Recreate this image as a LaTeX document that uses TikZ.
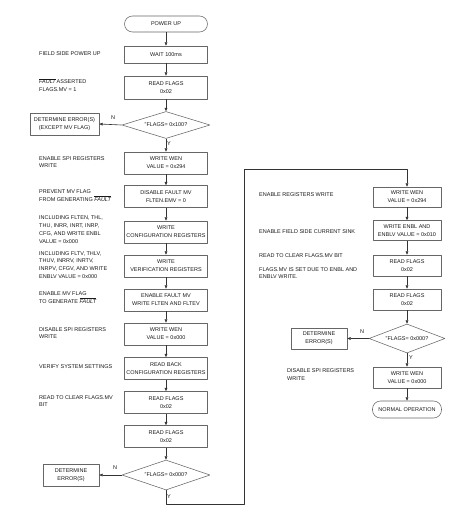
\documentclass[tikz,border=0pt]{standalone}
\usepackage{fontspec}
\setmainfont{Liberation Sans}
\usetikzlibrary{arrows.meta,shapes.geometric,calc}

\newcommand{\faultbar}{$\overline{\mbox{\itshape FAULT}}$}

\begin{document}
\begin{tikzpicture}[
    x=1pt, y=-1pt,
    >={Triangle[length=3.4pt,width=2.8pt]},
    line join=round,
    font=\fontsize{5.5}{7.8}\selectfont,
    box/.style={draw=black!60, line width=0.55pt, minimum width=83pt,
        minimum height=22pt, inner sep=1pt, align=center, text=black!90},
    rbox/.style={box, minimum width=68pt, minimum height=21pt},
    term/.style={box, rounded corners=8pt, minimum height=16pt},
    test/.style={draw=black!60, line width=0.55pt, diamond, aspect=3.2,
        inner sep=0pt, text=black!90},
    note/.style={anchor=west, align=left, inner sep=0pt, text=black!90},
    yn/.style={inner sep=0pt, text=black!90},
    flow/.style={draw=black!80, line width=0.6pt, ->}
]

% -----------------------
% Parameters
% -----------------------
\def\cx{166}
\def\rx{407}
\def\nx{39}

\useasboundingbox (0,0) rectangle (474,519);

% -----------------------
% Left column
% -----------------------
\node[term] (pwr) at (\cx,24) {POWER UP};
\node[box, minimum height=17pt] (wait) at (\cx,54.5) {WAIT 100ms};
\node[box, minimum height=23pt] (rf1) at (\cx,87.5) {READ FLAGS\\0x02};
\node[test, minimum width=88pt, minimum height=27pt] (dc1) at (\cx,125) {"FLAGS= 0x100?};
\node[box, minimum width=69pt] (er1) at (64.5,124) {DETERMINE ERROR(S)\\(EXCEPT MV FLAG)};

\node[box] (wen1) at (\cx,163) {WRITE WEN\\VALUE = 0x294};
\node[box] (dis) at (\cx,196.5) {DISABLE FAULT MV\\FLTEN.EMV = 0};
\node[box] (wcfg) at (\cx,232) {WRITE\\CONFIGURATION REGISTERS};
\node[box] (wver) at (\cx,266) {WRITE\\VERIFICATION REGISTERS};
\node[box] (enf) at (\cx,300) {ENABLE FAULT MV\\WRITE FLTEN AND FLTEV};
\node[box] (wen2) at (\cx,334) {WRITE WEN\\VALUE = 0x000};
\node[box] (rbk) at (\cx,368.5) {READ BACK\\CONFIGURATION REGISTERS};
\node[box] (rf2) at (\cx,402.5) {READ FLAGS\\0x02};
\node[box] (rf3) at (\cx,436.5) {READ FLAGS\\0x02};
\node[test, minimum width=88pt, minimum height=30pt] (dc2) at (\cx,475) {"FLAGS= 0x000?};
\node[box, minimum width=56pt] (er2) at (71,475) {DETERMINE\\ERROR(S)};

% -----------------------
% Right column
% -----------------------
\node[rbox, minimum height=20pt] (wen3) at (\rx,197) {WRITE WEN\\VALUE = 0x294};
\node[rbox, minimum height=20pt] (enb) at (\rx,230.5) {WRITE ENBL AND\\ENBLV VALUE = 0x010};
\node[rbox] (rf4) at (\rx,265.5) {READ FLAGS\\0x02};
\node[rbox] (rf5) at (\rx,299.5) {READ FLAGS\\0x02};
\node[test, minimum width=76pt, minimum height=29pt] (dc3) at (\rx,338.5) {"FLAGS= 0x000?};
\node[rbox, minimum width=56pt] (er3) at (319,338.5) {DETERMINE\\ERROR(S)};
\node[rbox] (wen4) at (\rx,377.5) {WRITE WEN\\VALUE = 0x000};
\node[term, minimum width=69pt, minimum height=17pt] (nop) at (\rx,409.5) {NORMAL OPERATION};

% -----------------------
% Flow arrows
% -----------------------
\foreach \a/\b in {pwr/wait, wait/rf1, rf1/dc1, dc1/wen1, wen1/dis, dis/wcfg,
    wcfg/wver, wver/enf, enf/wen2, wen2/rbk, rbk/rf2, rf2/rf3, rf3/dc2,
    wen3/enb, enb/rf4, rf4/rf5, rf5/dc3, dc3/wen4, wen4/nop}
    \draw[flow] (\a.south) -- (\b.north);

\draw[flow] (dc1.west) -- (er1.east);
\draw[flow] (dc2.west) -- (er2.east);
\draw[flow] (dc3.west) -- (er3.east);

% loop to right column
\coordinate (lpA) at (244,504);
\coordinate (lpB) at (244,169);
\draw[flow] (dc2.south) |- (lpA) -- (lpB) -| (wen3.north);

% -----------------------
% Y / N
% -----------------------
\node[yn] (n1) at (113,118) {N};
\node[yn] (y1) at (169,144) {Y};
\node[yn] (n2) at (115,468) {N};
\node[yn] (y2) at (169,497) {Y};
\node[yn] (n3) at (362,332) {N};
\node[yn] (y3) at (411,358) {Y};

% -----------------------
% Notes, left
% -----------------------
\node[note] (t1) at (\nx,54) {FIELD SIDE POWER UP};
\node[note] (t2) at (\nx,85) {\faultbar\,ASSERTED\\FLAGS.MV = 1};
\node[note] (t3) at (\nx,162) {ENABLE SPI REGISTERS\\WRITE};
\node[note] (t4) at (\nx,195.5) {PREVENT MV FLAG\\FROM GENERATING \faultbar};
\node[note] (t5) at (\nx,229.5) {INCLUDING FLTEN, THL,\\THU, INRR, INRT, INRP,\\CFG, AND WRITE ENBL\\VALUE = 0x000};
\node[note] (t6) at (\nx,265) {INCLUDING FLTV, THLV,\\THUV, INRRV, INRTV,\\INRPV, CFGV, AND WRITE\\ENBLV VALUE = 0x000};
\node[note] (t7) at (\nx,298) {ENABLE MV FLAG\\TO GENERATE \faultbar};
\node[note] (t8) at (\nx,333) {DISABLE SPI REGISTERS\\WRITE};
\node[note] (t9) at (\nx,367) {VERIFY SYSTEM SETTINGS};
\node[note] (t10) at (\nx,401) {READ TO CLEAR FLAGS.MV\\BIT};

% -----------------------
% Notes, right
% -----------------------
\node[note] (u1) at (259,195) {ENABLE REGISTERS WRITE};
\node[note] (u2) at (259,232) {ENABLE FIELD SIDE CURRENT SINK};
\node[note] (u3) at (259,256) {READ TO CLEAR FLAGS.MV BIT};
\node[note] (u4) at (259,273) {FLAGS.MV IS SET DUE TO ENBL AND\\ENBLV WRITE.};
\node[note] (u5) at (287,374.5) {DISABLE SPI REGISTERS\\WRITE};

\end{tikzpicture}
\end{document}
